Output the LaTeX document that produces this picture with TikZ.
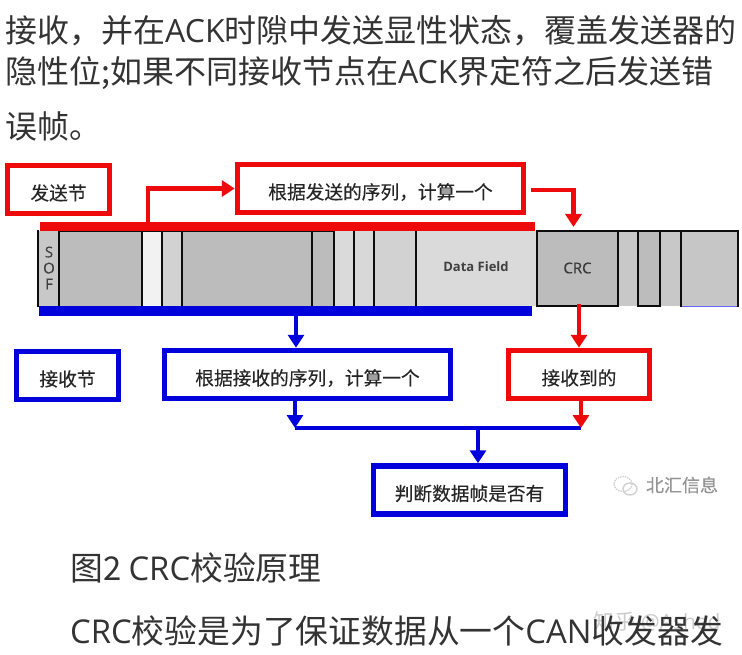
\documentclass[tikz,border=0pt]{standalone}
\usepackage{fontspec}
\setmainfont{Noto Sans CJK SC}
\newfontfamily\lat{Open Sans}
\newfontfamily\latb[FakeBold=0.3]{Open Sans}
\newcommand{\LT}[1]{{\lat #1}}
\newfontfamily\boxcjk[FakeBold=0.25]{Noto Sans CJK SC}
\usetikzlibrary{arrows.meta,calc}
\definecolor{txt}{HTML}{333333}
\definecolor{rd}{HTML}{EE0A0A}
\definecolor{bl}{HTML}{0000DD}
\newcommand{\lbl}[1]{\raisebox{-10.5pt}[0pt][0pt]{#1}}
\tikzset{
  x=1pt,y=-1pt,
  para/.style={anchor=base west,inner sep=0,text=txt,font=\fontsize{32}{32}\selectfont},
  capt/.style={para,font=\fontsize{32.8}{33}\selectfont},
  redbox/.style={draw=rd,line width=5.5pt,fill=white,inner sep=0,text=black!85,font=\boxcjk\fontsize{18.7}{19}\selectfont},
  bluebox/.style={draw=bl,line width=5.5pt,fill=white,inner sep=0,text=black!85,font=\boxcjk\fontsize{18.7}{19}\selectfont},
  divider/.style={draw=black!95,line width=2.6pt},
  redarrow/.style={draw=rd,line width=4.4pt,-{Triangle[length=13pt,width=16pt]}},
  bluearrow/.style={draw=bl,line width=4.4pt,-{Triangle[length=13pt,width=16pt]}},
  redbar/.style={fill=rd,inner sep=0},
  bluebar/.style={fill=bl,inner sep=0},
  mark text/.style={text=black!42,font=\boxcjk\fontsize{18}{18}\selectfont},
}
\begin{document}
\begin{tikzpicture}
\useasboundingbox[fill=white] (0,0) rectangle (742,655);
% watermark under the text
\node[inner sep=0,text=black!20,font=\lat\fontsize{21}{21}\selectfont] (zh) at (657,622) {{\rmfamily 知乎} @Ashed};
% paragraph text
\node[para] (p1) at (5,43) {接收，并在\LT{ACK}时隙中发送显性状态，覆盖发送器的};
\node[para] (p2) at (5,84) {隐性位;如果不同接收节点在\LT{ACK}界定符之后发送错};
\node[para] (p3) at (5,139) {误帧。};
\node[capt] (p4) at (70,580) {图2 \LT{CRC}校验原理};
\node[capt] (p5) at (70,643) {\LT{CRC}校验是为了保证数据从一个\LT{CAN}收发器发};
% frame segments
\foreach \a/\b/\c in {38/59/C8C8C8,59/142/BCBCBC,142/162/F2F2F2,162/182/D2D2D2,182/312/BCBCBC,312/334/BCBCBC,334/354/DADADA,354/374/D8D8D8,374/416/D2D2D2,416/537/DADADA,537/618/BCBCBC,618/638/C8C8C8,638/660/BCBCBC,660/681/C8C8C8,681/738/C6C6C6}{
  \definecolor{segc}{HTML}{\c}
  \fill[segc] (\a,231) rectangle (\b,306);
}
\draw[divider] (59,231) -- (334,231) (537,231) -- (738,231);
\draw[divider] (537,306) -- (618,306) (638,306) -- (660,306);
\draw[blue!60,line width=.7pt] (681,306) -- (738,306);
\foreach \x in {38,59,142,162,182,312,334,354,374,416,537,618,638,660,681,738}{
  \draw[divider] (\x,230) -- (\x,307);
}
\node[inner sep=0,align=center,font=\latb\fontsize{15}{16}\selectfont,text=black!75] (sof) at (49,268) {S\\O\\F};
\node[inner sep=0,font=\lat\bfseries\fontsize{13}{14}\selectfont,text=black!75] (data) at (476,267) {Data Field};
\node[inner sep=0,font=\latb\fontsize{15}{15}\selectfont,text=black!78] (crc) at (577.5,268) {CRC};
% bars
\node[redbar,minimum width=495pt,minimum height=9pt] (rbar) at (287.5,226.5) {};
\node[bluebar,minimum width=493pt,minimum height=10pt] (bbar) at (285.5,310.5) {};
% boxes
\node[redbox,minimum width=102pt,minimum height=48pt] (send) at (58.5,189.5) {\lbl{发送节}};
\node[redbox,minimum width=286pt,minimum height=48pt] (calcs) at (380.5,188.5) {\lbl{根据发送的序列，计算一个}};
\node[bluebox,minimum width=102pt,minimum height=48pt] (recv) at (67.5,375.5) {\lbl{接收节}};
\node[bluebox,minimum width=286pt,minimum height=48pt] (calcr) at (307.5,374.5) {\lbl{根据接收的序列，计算一个}};
\node[redbox,minimum width=141pt,minimum height=48pt] (got) at (579,374.5) {\lbl{接收到的}};
\node[bluebox,minimum width=192pt,minimum height=48pt] (judge) at (469.5,490) {\lbl{判断数据帧是否有}};
% connectors
\coordinate (rbarup) at (148,222);
\coordinate (crctop) at (573.5,227);
\coordinate (crcbot) at (579,304);
\coordinate (bbardn) at (296,315);
\coordinate (jn) at (581,428);
\coordinate (jl) at (295,428);
\coordinate (jm) at (478,428);
\draw[redarrow] (rbarup) |- (calcs.west);
\draw[redarrow] ($(calcs.east)+(5,1.5)$) -| (crctop);
\draw[redarrow] (crcbot) -- (got.north -| crcbot);
\draw[bluearrow] (bbardn) -- (calcr.north -| bbardn);
\draw[bluearrow] (calcr.south -| jl) -- (jl);
\draw[bl,line width=4.5pt] (jl) -- (jn);
\draw[redarrow] (got.south -| jn) -- (jn);
\draw[bluearrow] (jm) -- (judge.north -| jm);
% watermarks
\node[mark text,inner sep=0] (wm) at (682,485) {北汇信息};
\draw[black!18,line width=1.4pt,densely dotted] (623,484) ellipse (9pt and 7.5pt);
\draw[black!18,line width=1.4pt] (630,489) ellipse (7pt and 6pt);
\end{tikzpicture}
\end{document}
